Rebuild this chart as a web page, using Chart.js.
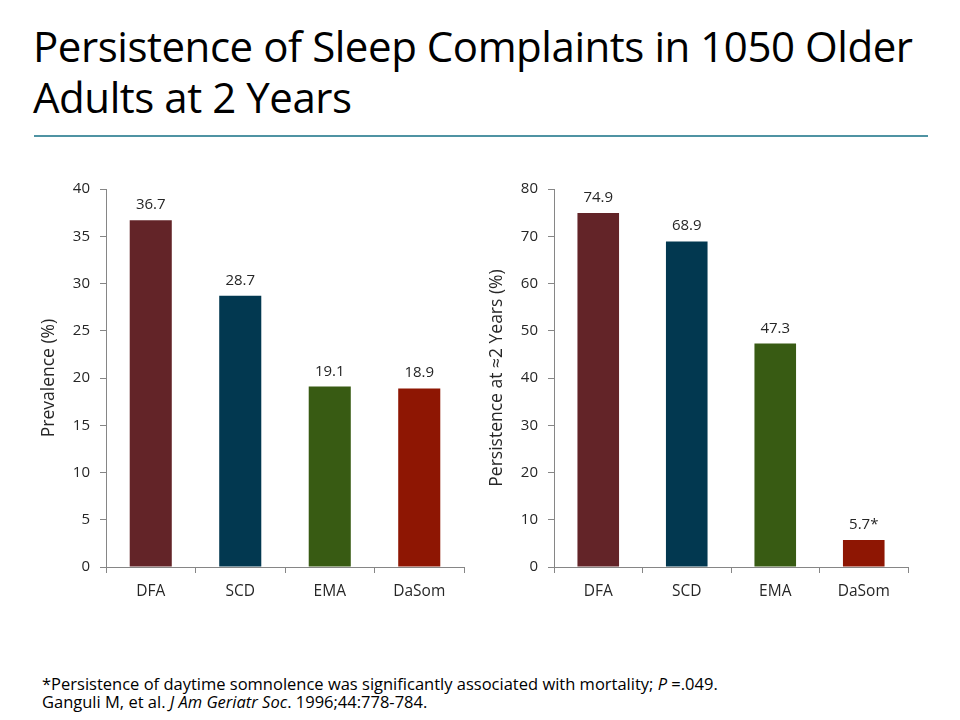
<!DOCTYPE html>
<html>
<head>
<meta charset="utf-8">
<script src="https://cdn.jsdelivr.net/npm/chart.js@4.4.1/dist/chart.umd.min.js"></script>
<style>
  html, body { margin: 0; padding: 0; background: #fff; }
  body { width: 960px; height: 720px; position: relative; overflow: hidden; }
  .title { position: absolute; left: 33px; top: 20px; font-family: "Open Sans", sans-serif; font-size: 42px; line-height: 51px; letter-spacing: -0.45px; color: #000; white-space: nowrap; }
  .rule { position: absolute; left: 34px; top: 135px; width: 894px; height: 2px; background: #4f93a3; }
  .note { position: absolute; left: 42px; top: 675px; font-family: "Open Sans", sans-serif; font-size: 16.5px; line-height: 18px; color: #000; white-space: nowrap; }
  canvas { position: absolute; }
</style>
</head>
<body>
<div class="title">Persistence of Sleep Complaints in 1050 Older<br>Adults at 2 Years</div>
<div class="rule"></div>
<canvas id="c1" width="440" height="440" style="left:30px;top:170px;"></canvas>
<canvas id="c2" width="440" height="440" style="left:480px;top:170px;"></canvas>
<div class="note">*Persistence of daytime somnolence was significantly associated with mortality; <i>P</i> =.049.<br>Ganguli M, et al. <i>J Am Geriatr Soc</i>. 1996;44:778-784.</div>
<script>
const categories = ["DFA", "SCD", "EMA", "DaSom"];
const prevalenceValues = [36.7, 28.7, 19.1, 18.9];
const prevalenceLabels = ["36.7", "28.7", "19.1", "18.9"];
const persistenceValues = [74.9, 68.9, 47.3, 5.7];
const persistenceLabels = ["74.9", "68.9", "47.3", "5.7*"];
const barColors = ["#632428", "#023850", "#385b13", "#8e1603"];
const prevalenceTicks = [0, 5, 10, 15, 20, 25, 30, 35, 40];
const persistenceTicks = [0, 10, 20, 30, 40, 50, 60, 70, 80];

const FONT = "'Open Sans', sans-serif";
const TEXT = "#262626";
const AXIS = "#868686";

const valueLabelPlugin = {
  id: "valueLabels",
  afterDatasetsDraw(chart, args, opts) {
    const ctx = chart.ctx;
    const meta = chart.getDatasetMeta(0);
    ctx.save();
    ctx.font = "15px " + FONT;
    ctx.fillStyle = TEXT;
    ctx.textAlign = "center";
    ctx.textBaseline = "alphabetic";
    meta.data.forEach((bar, i) => {
      ctx.fillText(opts.labels[i], bar.x, bar.y - 11);
    });
    ctx.restore();
  }
};

function makeChart(id, values, labels, ticks, max, step, yTitle, yWidth, padRight, titlePad) {
  return new Chart(document.getElementById(id), {
    type: "bar",
    data: {
      labels: categories,
      datasets: [{
        data: values,
        backgroundColor: barColors,
        borderWidth: 0,
        categoryPercentage: 1.0,
        barPercentage: 0.47
      }]
    },
    plugins: [valueLabelPlugin],
    options: {
      responsive: false,
      animation: false,
      devicePixelRatio: 1,
      layout: { padding: { top: 16, right: padRight, bottom: 0, left: 0 } },
      plugins: {
        legend: { display: false },
        tooltip: { enabled: false },
        valueLabels: { labels: labels }
      },
      scales: {
        x: {
          grid: { display: true, drawOnChartArea: false, drawTicks: true, tickLength: 6, color: AXIS, offset: true },
          border: { display: true, color: AXIS, width: 1 },
          ticks: { color: TEXT, font: { family: FONT, size: 15.5 }, padding: 9 },
          afterFit(s) { s.height = 43; }
        },
        y: {
          min: 0,
          max: max,
          afterBuildTicks(s) { s.ticks = ticks.map(v => ({ value: v })); },
          grid: { display: true, drawOnChartArea: false, drawTicks: true, tickLength: 6, color: AXIS },
          border: { display: true, color: AXIS, width: 1 },
          ticks: { color: TEXT, font: { family: FONT, size: 15 }, padding: 10, stepSize: step },
          title: { display: true, text: yTitle, color: TEXT, font: { family: FONT, size: 17.5 }, padding: { top: titlePad, bottom: 0 } },
          afterFit(s) { s.width = yWidth; }
        }
      }
    }
  });
}

makeChart("c1", prevalenceValues, prevalenceLabels, prevalenceTicks, 40, 5, "Prevalence (%)", 76, 6, 9);
makeChart("c2", persistenceValues, persistenceLabels, persistenceTicks, 80, 10, "Persistence at \u22482 Years (%)", 74, 12, 7);
</script>
</body>
</html>
